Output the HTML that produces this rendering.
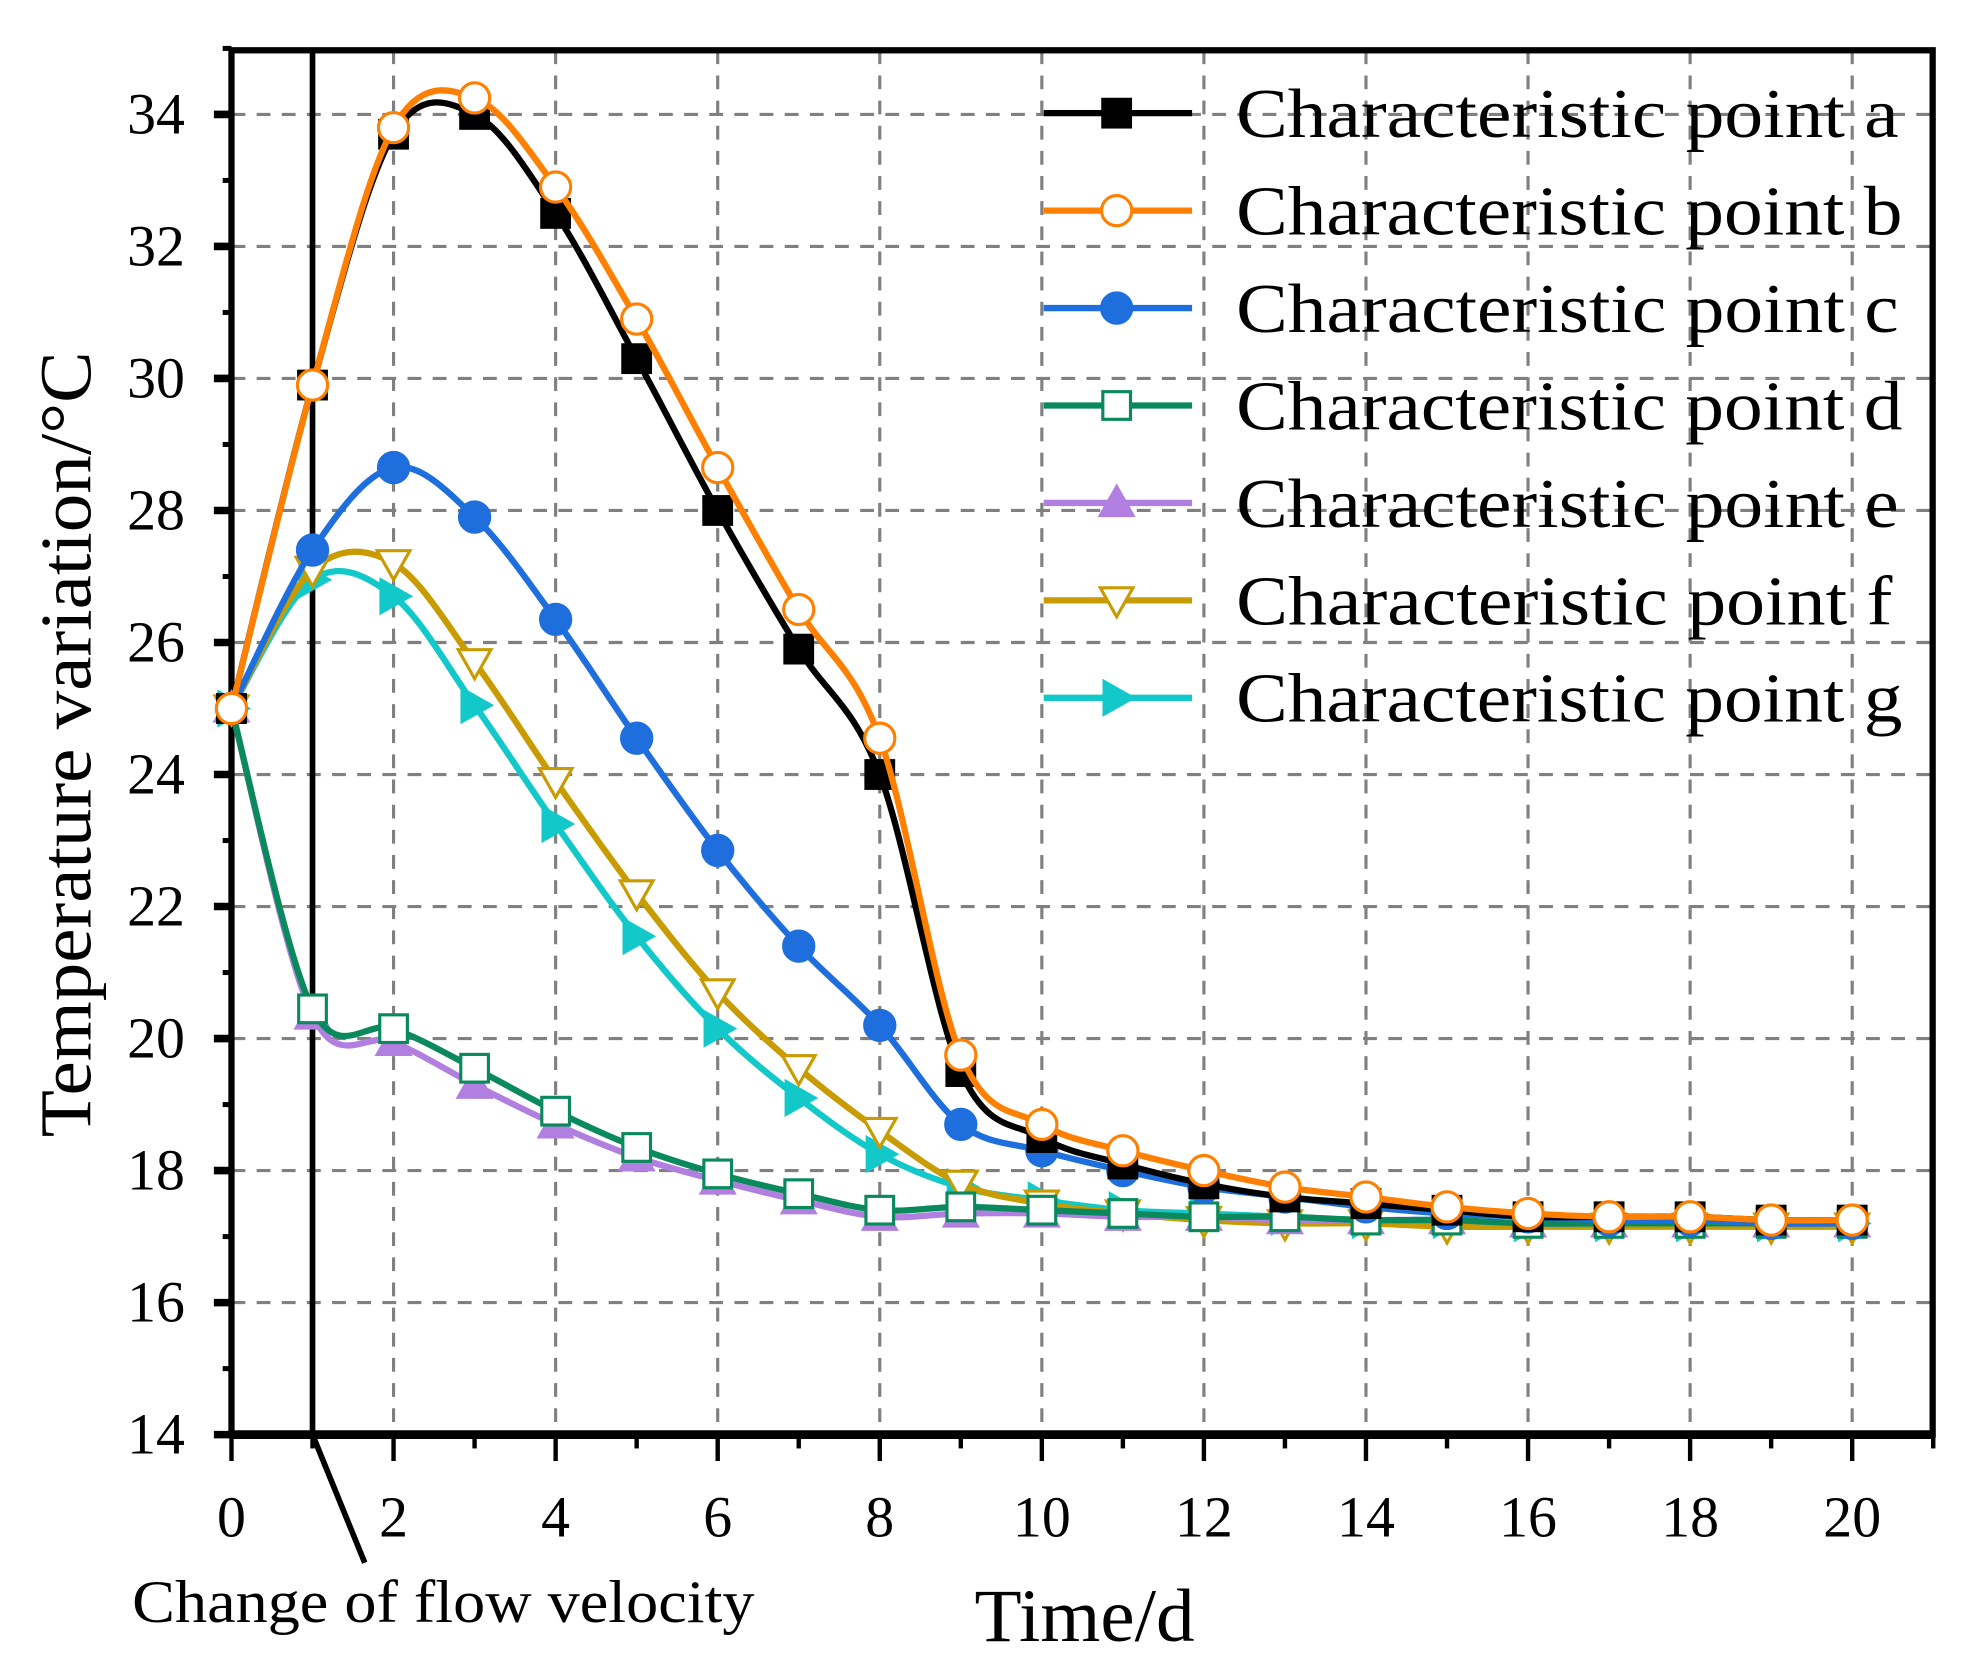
<!DOCTYPE html>
<html><head><meta charset="utf-8"><style>
html,body{margin:0;padding:0;background:#fff;}
svg{display:block;}
text{font-family:"Liberation Serif",serif;fill:#000;}
</style></head><body>
<svg id="s" width="1968" height="1671" viewBox="0 0 1565 1329" xmlns="http://www.w3.org/2000/svg"></svg>
<script>
const s=document.getElementById('s');
const NS='http://www.w3.org/2000/svg';
function el(t,a,txt){const e=document.createElementNS(NS,t);for(const k in a)e.setAttribute(k,a[k]);if(txt!==undefined)e.textContent=txt;s.appendChild(e);return e;}
const X=t=>184+t*64.45, Y=v=>1141-(v-14)*52.5;
for(let t=2;t<=20;t+=2)el('line',{x1:X(t),y1:40,x2:X(t),y2:1141,stroke:'#808080','stroke-width':2.5,'stroke-dasharray':'11,9'});
for(let v=16;v<=34;v+=2)el('line',{x1:184,y1:Y(v),x2:1537,y2:Y(v),stroke:'#808080','stroke-width':2.5,'stroke-dasharray':'11,9'});
el('rect',{x:184,y:40,width:1353,height:1101,fill:'none',stroke:'#000','stroke-width':5});
el('line',{x1:184,y1:1141,x2:1537,y2:1141,stroke:'#000','stroke-width':7});
for(let v=14;v<=35;v++){const maj=v%2==0;el('line',{x1:184,y1:Y(v),x2:maj?170:177,y2:Y(v),stroke:'#000','stroke-width':maj?6:4});
 if(maj&&v<=34)el('text',{x:147,y:Y(v)+15,'font-size':46,'text-anchor':'end'},v);}
for(let t=0;t<=21;t++){const maj=t%2==0;el('line',{x1:X(t),y1:1141,x2:X(t),y2:maj?1162:1152,stroke:'#000','stroke-width':3.5});
 if(maj)el('text',{x:X(t),y:1222,'font-size':46,'text-anchor':'middle'},t);}
el('line',{x1:X(1),y1:40,x2:X(1),y2:1141,stroke:'#000','stroke-width':4.5});
el('line',{x1:X(1),y1:1141,x2:290,y2:1243,stroke:'#000','stroke-width':4.5});
el('text',{x:105,y:1290,'font-size':48,textLength:495,lengthAdjust:'spacingAndGlyphs'},'Change of flow velocity');
el('text',{x:775,y:1305,'font-size':60,textLength:175,lengthAdjust:'spacingAndGlyphs'},'Time/d');
el('text',{x:0,y:0,'font-size':58,'text-anchor':'middle',textLength:625,lengthAdjust:'spacingAndGlyphs',transform:'translate(72,592) rotate(-90)'},'Temperature variation/°C');
const D={
a:[25,29.9,33.7,34.0,32.5,30.3,28.0,25.9,24.0,19.5,18.5,18.1,17.8,17.6,17.5,17.4,17.3,17.3,17.3,17.25,17.25],
b:[25,29.9,33.8,34.25,32.9,30.9,28.65,26.5,24.55,19.75,18.7,18.3,18.0,17.75,17.6,17.45,17.35,17.3,17.3,17.25,17.25],
c:[25,27.4,28.65,27.9,26.35,24.55,22.85,21.4,20.2,18.7,18.3,18.0,17.75,17.6,17.45,17.35,17.3,17.25,17.25,17.2,17.2],
d:[25,20.45,20.15,19.55,18.9,18.35,17.95,17.65,17.4,17.45,17.4,17.35,17.3,17.3,17.25,17.25,17.2,17.2,17.2,17.2,17.2],
e:[25,20.35,19.95,19.3,18.7,18.2,17.85,17.55,17.3,17.35,17.35,17.3,17.3,17.25,17.25,17.25,17.2,17.2,17.2,17.2,17.2],
f:[25,27.1,27.2,25.7,23.9,22.2,20.7,19.55,18.6,17.8,17.5,17.35,17.25,17.2,17.2,17.15,17.15,17.15,17.15,17.15,17.15],
g:[25,26.95,26.7,25.05,23.25,21.55,20.15,19.1,18.25,17.75,17.55,17.4,17.35,17.3,17.25,17.25,17.2,17.2,17.2,17.2,17.2]};
const S={a:['#000','sq',1],b:['#ff7f00','ci',0],c:['#1e6fdd','ci',1],d:['#0a8a5c','sq',0],e:['#b07fe0','up',1],f:['#c89b00','dn',0],g:['#12c8c8','rt',1]};
function marker(x,y,[c,sh,fill]){const f=fill?c:'#fff',a={fill:f,stroke:c,'stroke-width':2.5};
 if(sh=='sq')el('rect',Object.assign({x:x-11,y:y-11,width:22,height:22},a));
 else if(sh=='ci')el('circle',Object.assign({cx:x,cy:y,r:12},a));
 else{let p;if(sh=='up')p=[[x,y-13],[x-13,y+10],[x+13,y+10]];else if(sh=='dn')p=[[x,y+13],[x-13,y-10],[x+13,y-10]];else p=[[x+13,y],[x-10,y-13],[x-10,y+13]];
  el('polygon',Object.assign({points:p.map(q=>q.join(',')).join(' ')},a));}}
for(const k of ['g','f','e','d','c','a','b']){const v=D[k],P=v.map((y,i)=>[X(i),Y(y)]);let d='M'+P[0];
 for(let i=0;i<P.length-1;i++){const p0=P[Math.max(0,i-1)],p1=P[i],p2=P[i+1],p3=P[Math.min(P.length-1,i+2)];
  const c1=[p1[0]+(p2[0]-p0[0])/6,p1[1]+(p2[1]-p0[1])/6],c2=[p2[0]-(p3[0]-p1[0])/6,p2[1]-(p3[1]-p1[1])/6];d+=' C'+c1+' '+c2+' '+p2;}
 el('path',{d:d,fill:'none',stroke:S[k][0],'stroke-width':5});
 P.forEach(p=>marker(p[0],p[1],S[k]));}
const keys=['a','b','c','d','e','f','g'];
const lw={a:527,b:530,c:527,d:530,e:527,f:522,g:530};
keys.forEach((k,i)=>{const y=90+i*77.5;el('line',{x1:830,y1:y,x2:948,y2:y,stroke:S[k][0],'stroke-width':5});marker(888,y,S[k]);
 el('text',{x:983,y:y+19,'font-size':56,textLength:lw[k],lengthAdjust:'spacingAndGlyphs'},'Characteristic point '+k);});
</script>
</body></html>
